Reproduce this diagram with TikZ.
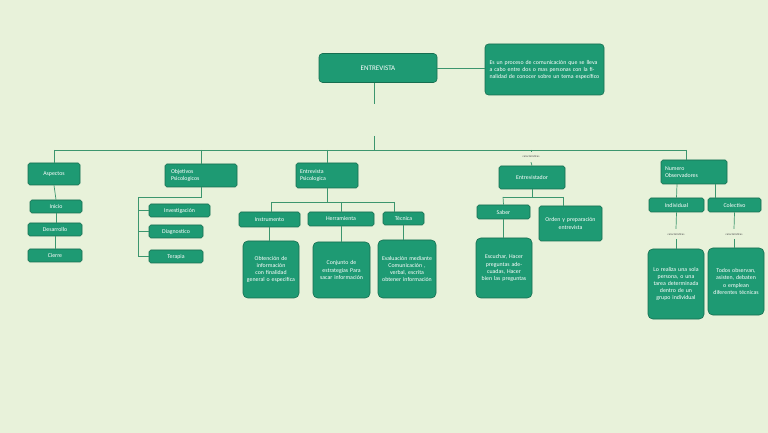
\documentclass[tikz,border=0pt]{standalone}
\usepackage{fontspec}
\setmainfont{Carlito}
\definecolor{bg}{RGB}{232,242,218}
\definecolor{boxf}{RGB}{30,154,115}
\definecolor{boxd}{RGB}{22,110,80}
\definecolor{lnc}{RGB}{60,150,110}
\begin{document}
\begin{tikzpicture}[x=0.03cm,y=-0.03cm,
 bx/.style={draw=boxd,fill=boxf,text=white,rounded corners=1.5pt,line width=0.5pt,inner sep=1pt,font=\fontsize{5}{6}\selectfont,align=center},
 ln/.style={draw=lnc,line width=0.6pt},
 sm/.style={font=\fontsize{2.5}{3}\selectfont,text=black!70}]
\fill[bg] (0,0) rectangle (768,433);
\useasboundingbox (0,0) rectangle (768,433);
\node[bx,minimum width=118*0.03cm,minimum height=29*0.03cm,rounded corners=3pt,font=\fontsize{6}{7}\selectfont] (ent) at (378,68) {ENTREVISTA};
\node[bx,minimum width=119*0.03cm,minimum height=51*0.03cm,align=left,rounded corners=3pt,text width=110*0.03cm] (desc) at (544.5,69.5) {Es un proceso de comunicación que se lleva a cabo entre dos o mas personas con la finalidad de conocer sobre un tema específico};
\draw[ln] (ent.east) -- (ent.east-|desc.west);
\coordinate (c1) at (374,104); \coordinate (c2) at (374,136);
\draw[ln] (374,83) -- (c1); \draw[ln] (c2) -- (374,150);
\draw[ln] (54,150) -- (686,150);
% level 1
\node[bx,minimum width=52*0.03cm,minimum height=22*0.03cm,align=left] (asp) at (54,174) {Aspectos};
\node[bx,minimum width=72*0.03cm,minimum height=23*0.03cm,align=left,text width=60*0.03cm] (obj) at (201,175.5) {Objetivos\\Psicologicos};
\node[bx,minimum width=62*0.03cm,minimum height=25*0.03cm,align=left,text width=54*0.03cm] (eps) at (327,175.5) {Entrevista\\Psicologica};
\node[bx,minimum width=66*0.03cm,minimum height=23*0.03cm] (etr) at (532,177.5) {Entrevistador};
\node[bx,minimum width=66*0.03cm,minimum height=24*0.03cm,align=left,text width=58*0.03cm] (num) at (694,172) {Numero\\Observadores};
\node[sm] (car0) at (531,157) {caracteristicas};
\draw[ln] (54,150) -- (asp.north);
\draw[ln] (201,150) -- (obj.north);
\draw[ln] (327,150) -- (eps.north);
\draw[ln] (531,150) -- (car0.north);
\draw[ln] (686,150) -- (686,160);
% aspectos
\node[bx,minimum width=52*0.03cm,minimum height=13*0.03cm] (ini) at (56,206.5) {Inicio};
\node[bx,minimum width=54*0.03cm,minimum height=13*0.03cm] (des) at (55,229.5) {Desarrollo};
\node[bx,minimum width=54*0.03cm,minimum height=13*0.03cm] (cie) at (55,255.5) {Cierre};
\draw[ln] (asp.south) -- (ini.north); \draw[ln] (ini.south) -- (ini.south|-des.north); \draw[ln] (des.south) -- (des.south|-cie.north);
% objetivos
\node[bx,minimum width=61*0.03cm,minimum height=13*0.03cm] (inv) at (179.5,210.5) {Investigación};
\node[bx,minimum width=54*0.03cm,minimum height=13*0.03cm] (dia) at (176,231.5) {Diagnostico};
\node[bx,minimum width=54*0.03cm,minimum height=13*0.03cm] (ter) at (176,256.5) {Terapia};
\draw[ln] (obj.south) -- (201,197) -- (138,197) -- (138,256.5);
\draw[ln] (138,210.5) -- (inv.west); \draw[ln] (138,231.5) -- (dia.west); \draw[ln] (138,256.5) -- (ter.west);
% entrevista psicologica
\node[bx,minimum width=61*0.03cm,minimum height=15*0.03cm] (ins) at (269.5,219.5) {Instrumento};
\node[bx,minimum width=66*0.03cm,minimum height=14*0.03cm] (her) at (341,219) {Herramienta};
\node[bx,minimum width=41*0.03cm,minimum height=13*0.03cm] (tec) at (403.5,218.5) {Técnica};
\draw[ln] (eps.south) -- (327,202); \draw[ln] (271,202) -- (394,202);
\draw[ln] (271,202) -- (271,212); \draw[ln] (341,202) -- (her.north); \draw[ln] (394,202) -- (394,212);
\node[bx,rounded corners=4pt,minimum width=56*0.03cm,minimum height=57*0.03cm,text width=52*0.03cm] (obt) at (271,269.5) {Obtención de información con finalidad general o especifica};
\node[bx,rounded corners=4pt,minimum width=57*0.03cm,minimum height=56*0.03cm,text width=50*0.03cm] (con) at (341.5,270) {Conjunto de estrategias Para sacar información};
\node[bx,rounded corners=4pt,minimum width=58*0.03cm,minimum height=58*0.03cm,text width=54*0.03cm] (eva) at (407,269) {Evaluación mediante Comunicación , verbal, escrita obtener información};
\draw[ln] (ins.south) -- (ins.south|-obt.north);
\draw[ln] (her.south) -- (her.south|-con.north);
\draw[ln] (tec.south) -- (tec.south|-eva.north);
% entrevistador
\node[bx,minimum width=53*0.03cm,minimum height=14*0.03cm] (sab) at (503.5,212) {Saber};
\node[bx,minimum width=63*0.03cm,minimum height=35*0.03cm,text width=55*0.03cm] (ord) at (570.5,223.5) {Orden y preparación entrevista};
\node[bx,rounded corners=4pt,minimum width=56*0.03cm,minimum height=60*0.03cm,text width=52*0.03cm] (esc) at (504,268) {Escuchar, Hacer preguntas adecuadas, Hacer bien las preguntas};
\draw[ln] (car0.south) -- (etr.north);
\draw[ln] (etr.south) -- (532,197); \draw[ln] (503,197) -- (563,197);
\draw[ln] (503,197) -- (sab.north); \draw[ln] (563,197) -- (563,206);
\draw[ln] (sab.south) -- (sab.south|-esc.north);
% numero
\node[bx,minimum width=55*0.03cm,minimum height=14*0.03cm] (ind) at (676.5,205) {Individual};
\node[bx,minimum width=53*0.03cm,minimum height=14*0.03cm] (col) at (734.5,205) {Colectivo};
\draw[ln] (677,184) -- (ind.north); \draw[ln] (715,184) -- (715,198);
\node[sm] (car1) at (676,234) {caracteristicas};
\node[sm] (car2) at (734,234) {caracteristicas};
\node[bx,rounded corners=4pt,minimum width=56*0.03cm,minimum height=70*0.03cm,text width=50*0.03cm] (lo) at (676,284) {Lo realiza una sola persona, o una tarea determinada dentro de un grupo individual};
\node[bx,rounded corners=4pt,minimum width=56*0.03cm,minimum height=67*0.03cm,text width=46*0.03cm] (tod) at (736,281.5) {Todos observan, asisten, debaten o emplean diferentes técnicas};
\draw[ln] (ind.south) -- (car1.north); \draw[ln] (car1.south) -- (car1.south|-lo.north);
\draw[ln] (col.south) -- (car2.north); \draw[ln] (car2.south) -- (car2.south|-tod.north);
\end{tikzpicture}
\end{document}
